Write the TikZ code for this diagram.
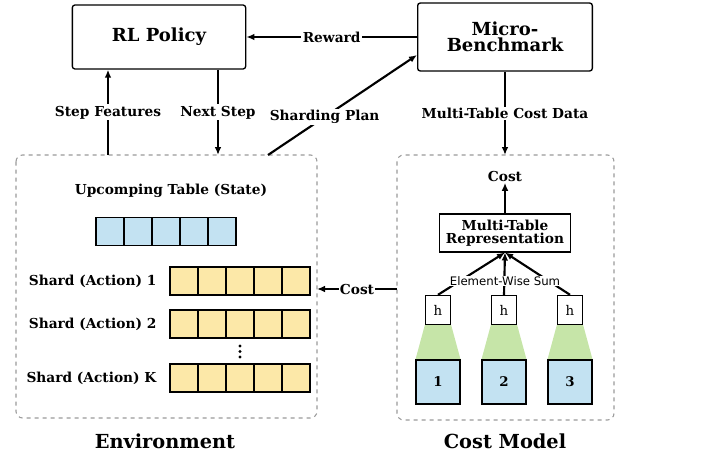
\documentclass[tikz,border=0pt]{standalone}
\usepackage{fontspec}
\setmainfont{DejaVu Serif}
\newfontfamily\sansf{DejaVu Sans}
\usetikzlibrary{arrows.meta}
\definecolor{cellblue}{HTML}{C3E2F2}
\definecolor{cellyellow}{HTML}{FCE8A8}
\definecolor{trapgreen}{HTML}{C6E5A8}
\begin{document}
\begin{tikzpicture}[x=0.75pt,y=-0.75pt,
  lab/.style={font=\bfseries\fontsize{10.3}{12}\selectfont, fill=white, inner sep=1pt},
  bigbox/.style={draw, line width=1pt, rounded corners=2pt, fill=white, font=\bfseries\fontsize{13.5}{14}\selectfont, align=center},
  region/.style={draw=gray!80, dashed, thick, rounded corners=5pt},
  arr/.style={-{Latex[length=6pt,width=5pt]}, line width=1.6pt},
  cell/.style={draw, thick, minimum width=21pt, minimum height=21pt, inner sep=0pt},
  hbox/.style={draw, thick, minimum width=19pt, minimum height=22pt, inner sep=0pt, font=\fontsize{10}{11}\selectfont},
  blk/.style={draw, thick, fill=cellblue, minimum width=33pt, minimum height=33pt, inner sep=0pt, font=\bfseries\fontsize{10}{11}\selectfont}]
\useasboundingbox (0,0) rectangle (715,471);
% top boxes
\node[bigbox, minimum width=130pt, minimum height=48pt] (rl) at (159,37) {RL Policy};
\node[bigbox, minimum width=131pt, minimum height=51pt] (mb) at (505,37) {Micro-\\[-2pt]Benchmark};
% regions
\draw[region] (16,155) rectangle (317,418);
\draw[region] (397,155) rectangle (614,420);
\coordinate (envsf) at (108,155);
\coordinate (envns) at (218,155);
\coordinate (envsp) at (268,155);
\coordinate (cmtop) at (505,155);
\coordinate (envr) at (317,289);
\coordinate (cmr) at (397,289);
\node[font=\bfseries\fontsize{14.5}{16}\selectfont] (envl) at (165,441) {Environment};
\node[font=\bfseries\fontsize{14.5}{16}\selectfont] (cml) at (505,441) {Cost Model};
% top connectors
\draw[arr] (mb.west |- 0,37) -- node[lab] {Reward} (rl.east |- 0,37);
\draw[arr] (envsf) -- node[lab] {Step Features} (envsf |- rl.south);
\draw[arr] (envns |- rl.south) -- node[lab] {Next Step} (envns);
\draw[arr] (envsp) -- node[lab, pos=0.38] {Sharding Plan} (417,55);
\draw[arr] (mb.south) -- node[lab] {Multi-Table Cost Data} (cmtop);
\draw[arr] (cmr) -- node[lab] {Cost} (envr);
% environment content
\node[lab] (up) at (171,191) {Upcomping Table (State)};
\foreach \i in {0,...,4}
  \node[cell, fill=cellblue] (s\i) at (110+28*\i,231.5) {};
\foreach \r/\y/\t in {1/281/1, 2/324/2, 3/378/K} {
  \node[lab, anchor=east] (sl\r) at (158,\y) {Shard (Action) \t};
  \foreach \i in {0,...,4}
    \node[cell, fill=cellyellow] (a\r\i) at (184+28*\i,\y) {};
}
\foreach \d in {346,351.5,357}
  \fill (240,\d) circle (1.3pt);
% cost model content
\node[draw, thick, fill=white, align=center, font=\bfseries\fontsize{10.3}{11.5}\selectfont, inner sep=4.5pt] (mtr) at (505,233) {Multi-Table\\[-2pt]Representation};
\node[lab] (cost) at (505,176) {Cost};
\draw[arr] (mtr.north) -- (cost.south);
\foreach \i/\x in {1/438, 2/504, 3/570} {
  \node[hbox] (h\i) at (\x,310) {h};
  \node[blk] (b\i) at (\x,382) {\i};
  \fill[trapgreen] (h\i.south west) -- (h\i.south east) -- (b\i.north east) -- (b\i.north west) -- cycle;
  \draw[thick] (b\i.north west) rectangle (b\i.south east);
  \draw[arr] (h\i.north) -- (mtr.south);
}
\node[font=\sansf\fontsize{8.8}{9}\selectfont, fill=white, inner sep=0.5pt] (ews) at (505,281) {Element-Wise Sum};
\end{tikzpicture}
\end{document}
